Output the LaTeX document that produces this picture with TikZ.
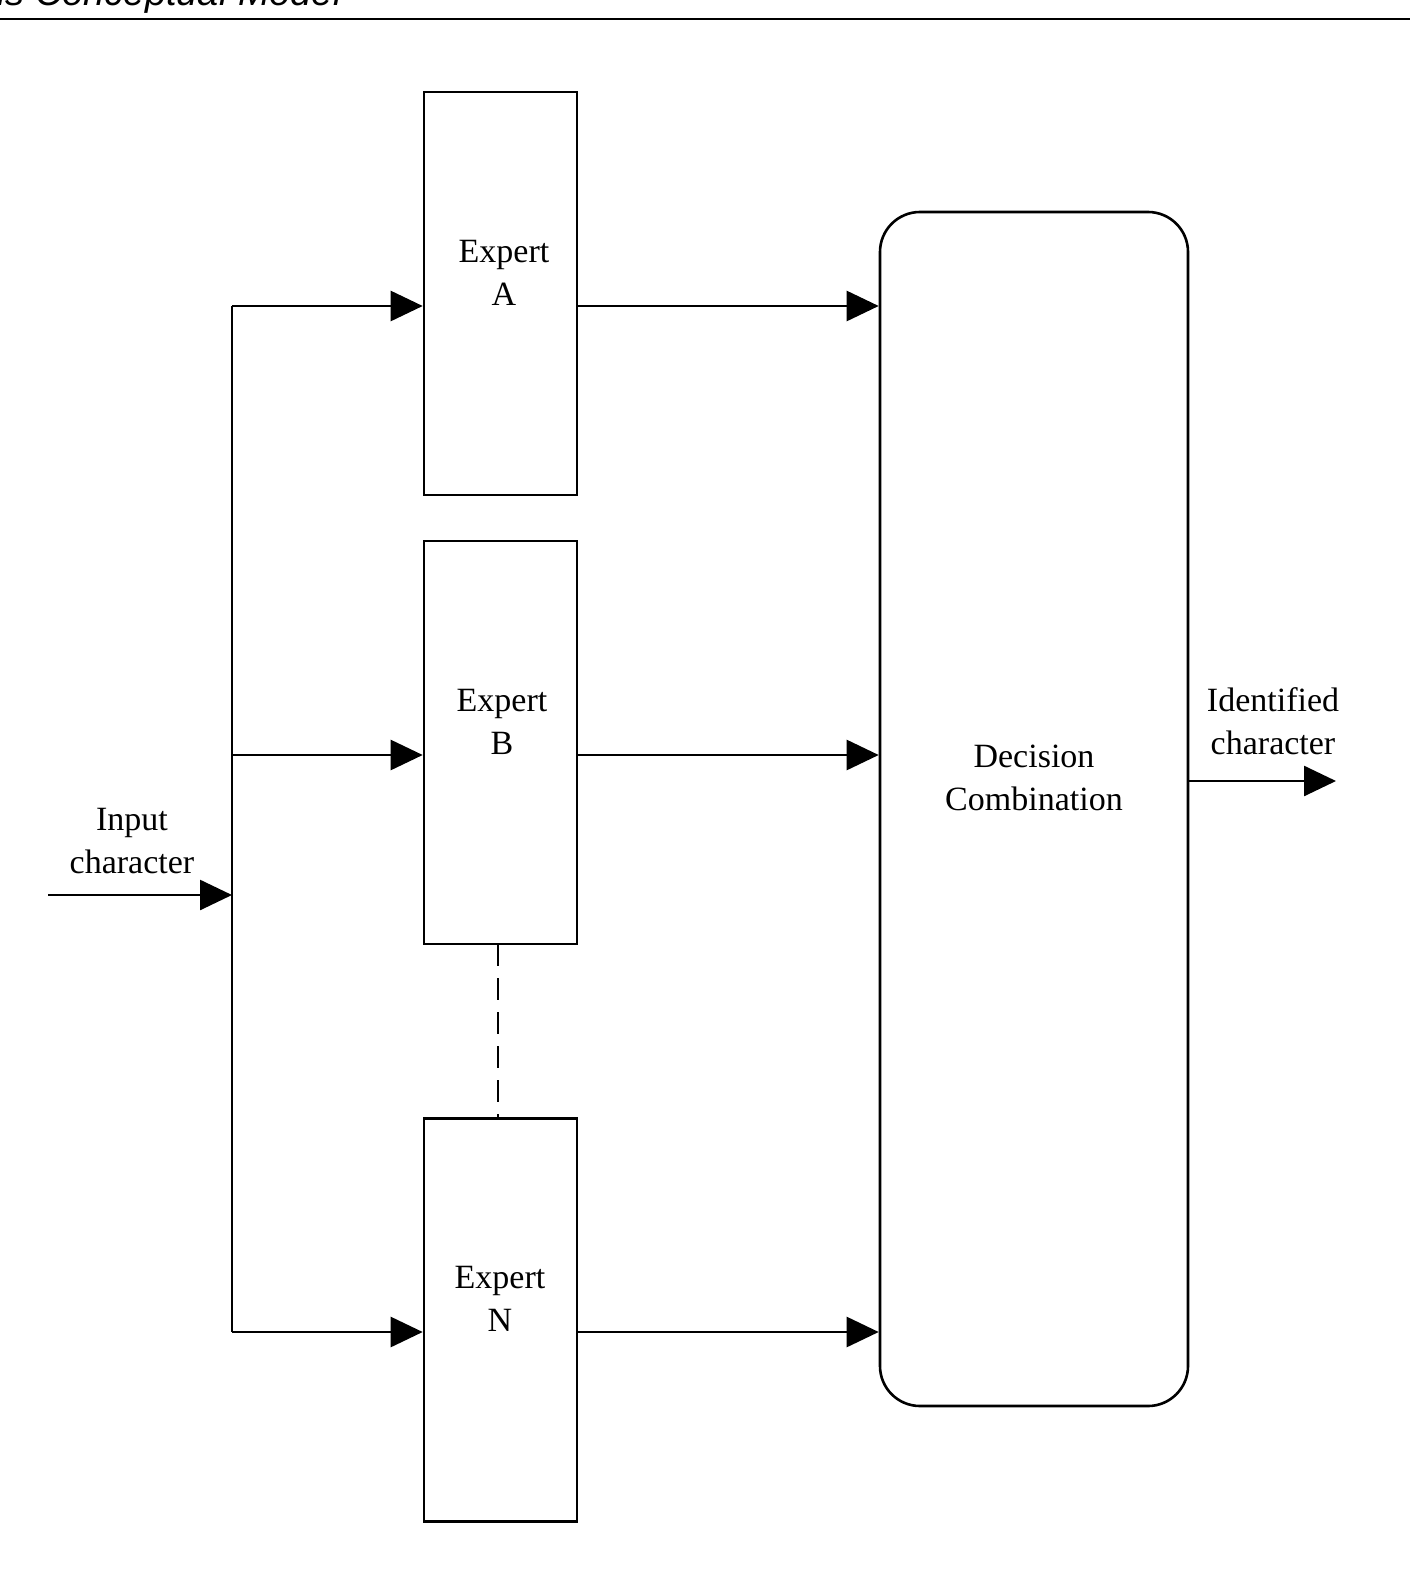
\documentclass[tikz,border=0pt]{standalone}
\usepackage{fontspec}
\setmainfont{Liberation Serif}
\newfontfamily\hdr{Liberation Sans}
\usetikzlibrary{arrows.meta}
\begin{document}
\begin{tikzpicture}[x=1bp,y=-1bp,line width=2.6bp,
  box/.style={draw,minimum width=153bp,minimum height=403bp,inner sep=0pt},
  lbl/.style={font=\fontsize{34bp}{43bp}\selectfont,align=center},
  arr/.style={-{Triangle[length=32bp,width=30bp]}}]
\useasboundingbox (0,0) rectangle (1423,1582);
\begin{scope}
\clip (0,0) rectangle (1423,1582);
\node[anchor=base west,inner sep=0pt,font=\hdr\itshape\fontsize{38bp}{40bp}\selectfont] (hdr) at (-4,6) {ls Conceptual Model};
\end{scope}
\draw (0,19) -- (1410,19);
\node[box] (A) at (500.5,293.5) {};
\node[box] (B) at (500.5,742.5) {};
\node[box] (N) at (500.5,1320) {};
\node[lbl] at (504,273) {Expert\\A};
\node[lbl] at (502,722) {Expert\\B};
\node[lbl] at (500,1299) {Expert\\N};
\node[draw,rounded corners=40bp,minimum width=308bp,minimum height=1194bp,inner sep=0pt] (D) at (1034,809) {};
\node[lbl] at (1034,778) {Decision\\Combination};
\node[lbl] at (132,841) {Input\\character};
\node[lbl] at (1273,721) {Identified\\character};
\coordinate (in) at (48,895);
\coordinate (j) at (232,895);
\coordinate (t) at (232,306);
\coordinate (m) at (232,755);
\coordinate (b) at (232,1332);
\coordinate (out) at (1336,781);
\draw[arr] (in) -- (j);
\draw (t) -- (b);
\draw[arr] (t) -- (A.west|-t);
\draw[arr] (m) -- (B.west|-m);
\draw[arr] (b) -- (N.west|-b);
\draw[arr] (A.east|-t) -- (D.west|-t);
\draw[arr] (B.east|-m) -- (D.west|-m);
\draw[arr] (N.east|-b) -- (D.west|-b);
\draw[arr] (D.east|-out) -- (out);
\draw[dash pattern=on 22bp off 12bp] (498,944) -- (498,1119);
\end{tikzpicture}
\end{document}
